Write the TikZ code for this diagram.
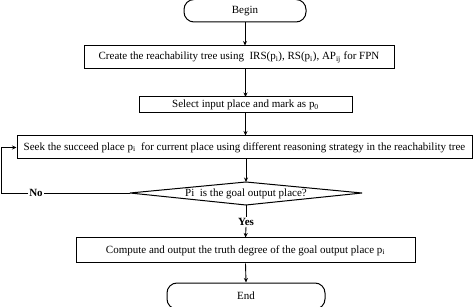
\documentclass[tikz,border=0pt]{standalone}
\usepackage{fontspec}
\setmainfont{Liberation Serif}
\usetikzlibrary{arrows.meta}
\begin{document}
\begin{tikzpicture}[x=1pt,y=-1pt,
  box/.style={draw, line width=1pt, inner sep=0pt, font=\fontsize{11}{13}\selectfont},
  term/.style={box, rounded corners=10pt},
  lbl/.style={inner sep=1pt, font=\fontsize{11}{13}\selectfont\bfseries},
  flow/.style={line width=0.9pt, -{Stealth[length=4.5pt,width=4pt]}},
  line/.style={line width=0.9pt}]
\useasboundingbox (0,0) rectangle (474,307);
\node[term, minimum width=122pt, minimum height=22.5pt] (begin) at (245,10.75) {Begin};
\node[box, minimum width=310pt, minimum height=23pt] (create) at (239,57.5)
  {Create the reachability tree using\ \ IRS(p\textsubscript{i}), RS(p\textsubscript{i}), AP\textsubscript{ij} for FPN};
\node[box, minimum width=213pt, minimum height=16pt] (select) at (245.5,105)
  {Select input place and mark as p\textsubscript{0}};
\node[box, minimum width=455pt, minimum height=23pt] (seek) at (244.5,147.5)
  {Seek the succeed place p\textsubscript{i}\ \ for current place using different reasoning strategy in the reachability tree};
\coordinate (dt) at (246,182);
\coordinate (dr) at (362,193);
\coordinate (db) at (246,205);
\coordinate (dl) at (130,193);
\draw[line width=1pt] (dt) -- (dr) -- (db) -- (dl) -- cycle;
\node[inner sep=0pt, font=\fontsize{11}{13}\selectfont] (dec) at (246,193.5) {Pi\ \ is the goal output place?};
\node[lbl] (yes) at (246,222) {Yes};
\node[lbl] (no) at (36,193) {No};
\node[box, minimum width=339pt, minimum height=25pt] (compute) at (245.5,250.5)
  {Compute and output the truth degree of the goal output place p\textsubscript{i}};
\node[term, minimum width=158pt, minimum height=26pt] (end) at (246,296) {End};
\coordinate (corner) at (1,193);
\draw[flow] (begin.south) -- (begin.south |- create.north);
\draw[flow] (245.5,69) -- (245.5,97);
\draw[flow] (select.south) -- (select.south |- seek.north);
\draw[flow] (246,159) -- (dt);
\draw[line] (db) -- (yes.north);
\draw[flow] (yes.south) -- (compute.north);
\draw[flow] (compute.south) -- (end.north);
\draw[line] (dl) -- (no.east);
\draw[flow] (no.west) -- (corner) -- (corner |- seek.west) -- (seek.west);
\end{tikzpicture}
\end{document}
